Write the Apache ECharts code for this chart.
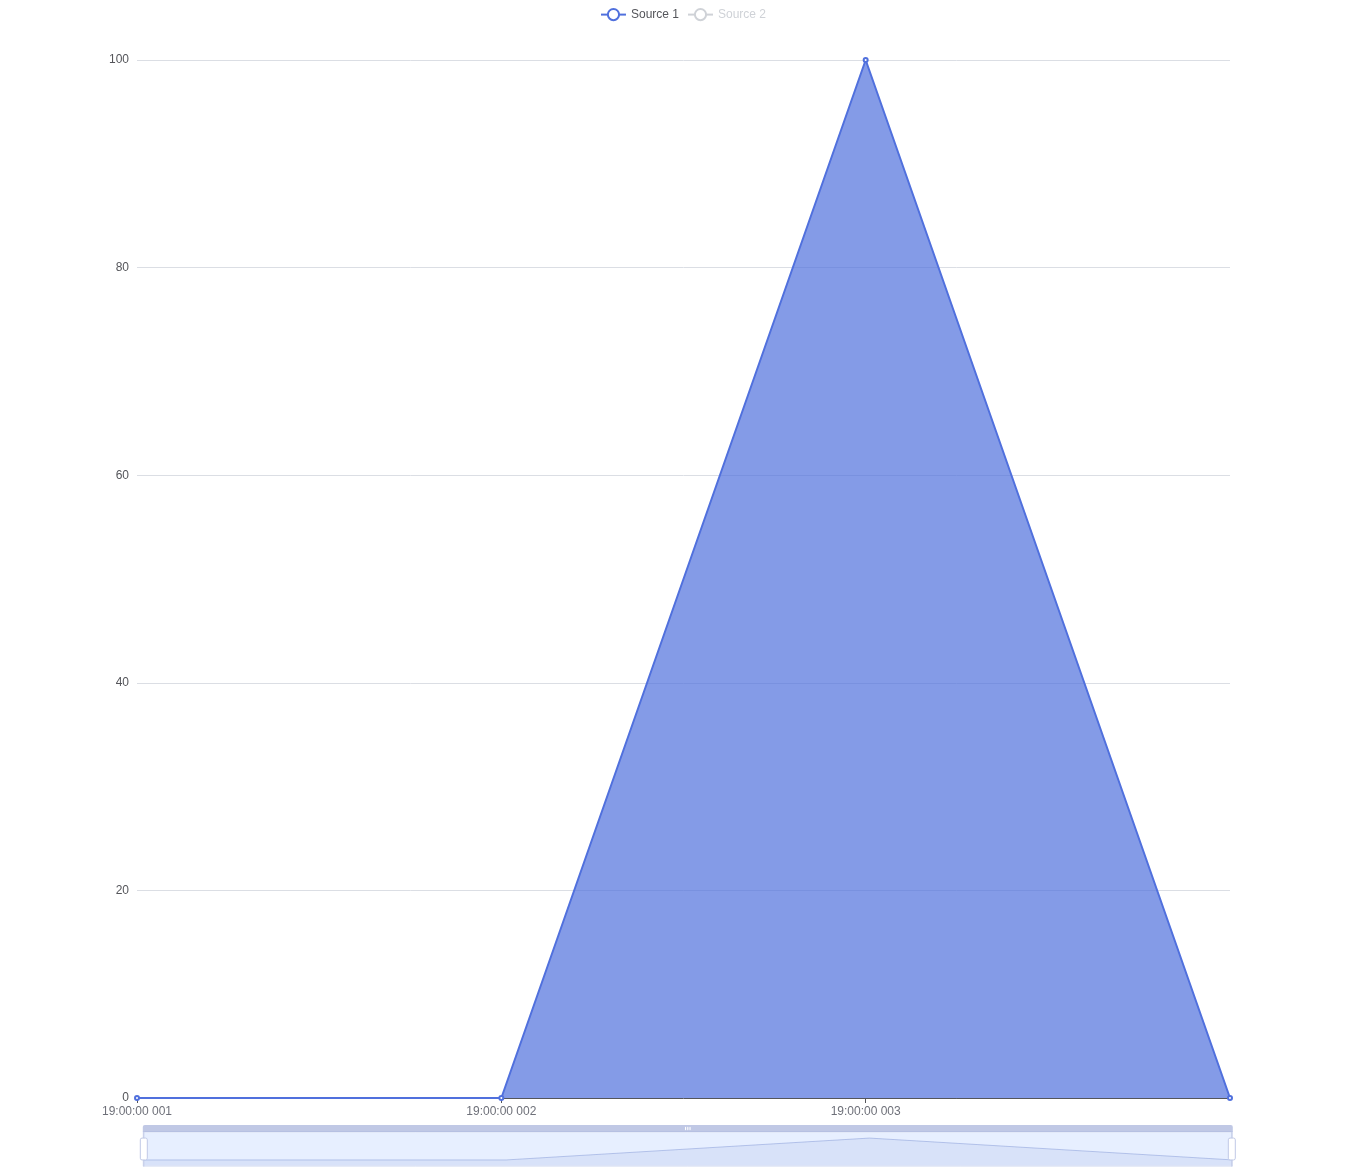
<!DOCTYPE html>
<html>
<head>
<meta charset="utf-8">
<script src="https://cdn.jsdelivr.net/npm/echarts@6/dist/echarts.min.js"></script>
<style>html,body{margin:0;padding:0;}#chart{width:1366px;height:1168px;}</style>
</head>
<body>
<div id="chart"></div>
<script>
var categories = ['19:00:00 001', '19:00:00 002', '19:00:00 003', '19:00:00 004'];
var source1 = [0, 0, 100, 0];
var source2 = [0, 0, 50, 0];

var chart = echarts.init(document.getElementById('chart'));
chart.setOption({
	legend: {
		top: 3,
		data: ['Source 1', 'Source 2'],
		selected: { 'Source 2': false },
		textStyle: { fontSize: 12 }
	},
	grid: { left: 137, right: 136, top: 60, bottom: 70 },
	xAxis: {
		type: 'category',
		boundaryGap: false,
		data: categories,
		axisLabel: { interval: function (i) { return i < 3; }, color: '#6e7079' }
	},
	yAxis: {
		type: 'value',
		min: 0,
		max: 100,
		interval: 20
	},
	dataZoom: [
		{ type: 'slider', left: 140, right: 136, top: 1125, height: 35 },
		{ type: 'inside' }
	],
	series: [
		{
			name: 'Source 1',
			type: 'line',
			data: source1,
			symbolSize: 4,
			areaStyle: { opacity: 0.7 }
		},
		{
			name: 'Source 2',
			type: 'line',
			data: source2,
			symbolSize: 4,
			areaStyle: { opacity: 0.7 }
		}
	]
});
</script>
</body>
</html>
